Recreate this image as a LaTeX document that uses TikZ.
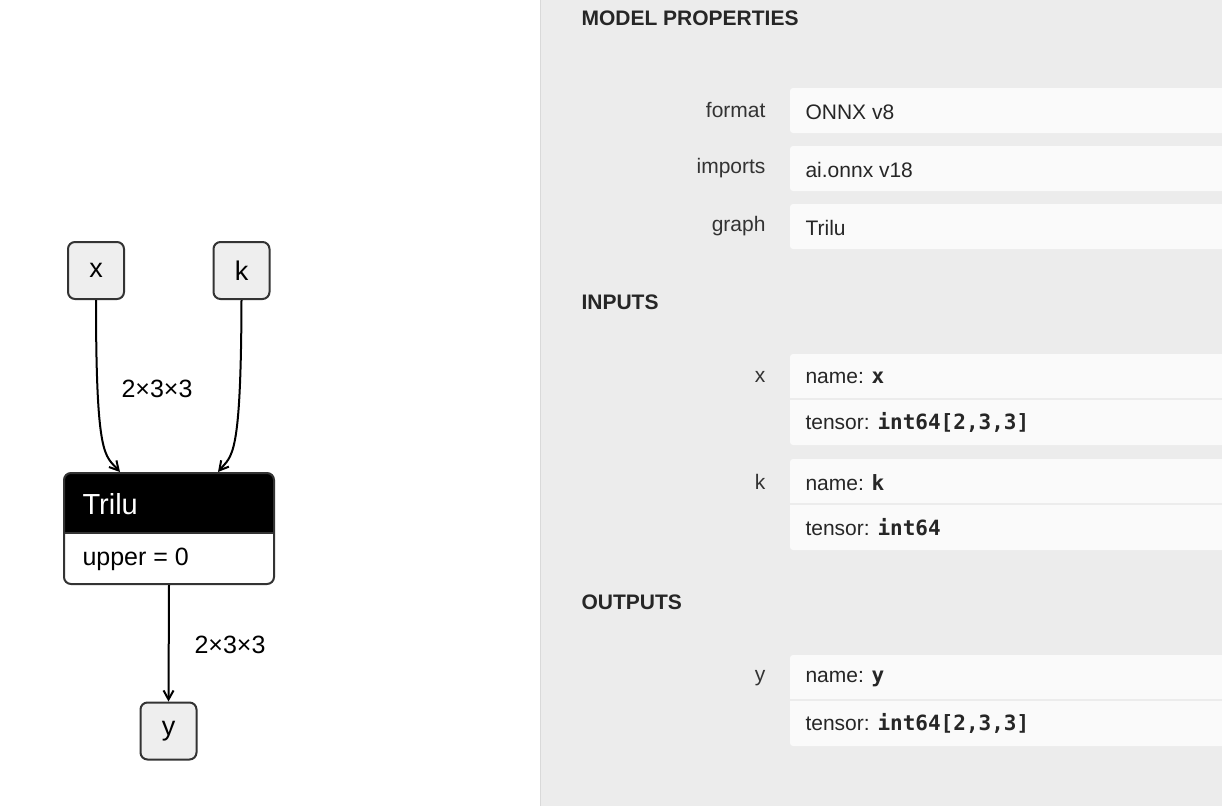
\documentclass[tikz,border=0pt]{standalone}
\usepackage{fontspec}
\setmainfont{Liberation Sans}
\setmonofont{DejaVu Sans Mono}
\usetikzlibrary{arrows.meta}
\definecolor{panel}{HTML}{ECECEC}
\definecolor{fieldbg}{HTML}{FAFAFA}
\definecolor{nodefill}{HTML}{EEEEEE}
\definecolor{bord}{HTML}{333333}
\begin{document}
\begin{tikzpicture}[x=1pt,y=-1pt,
  io/.style={draw=bord,line width=2pt,fill=nodefill,rounded corners=7pt,minimum width=56pt,minimum height=57pt,font=\fontsize{27}{30}\selectfont,inner sep=0pt},
  edge/.style={line width=2pt,-{Straight Barb[length=9pt,width=10pt]}},
  elab/.style={font=\fontsize{25}{28}\selectfont},
  head/.style={font=\bfseries\fontsize{21}{24}\selectfont,anchor=west,text=black!85},
  lab/.style={font=\fontsize{21}{24}\selectfont,anchor=east,text=black!80},
  fld/.style={font=\fontsize{21}{24}\selectfont,anchor=west,text=black!85},
]
\useasboundingbox (0,0) rectangle (1222,806);
\fill[panel] (540,0) rectangle (1222,806);
\draw[black!15,line width=1pt] (540,0) -- (540,806);
% graph
\node[io] (x) at (96,270.5) {x};
\node[io] (k) at (241.5,270.5) {k};
\node[io] (y) at (168.5,731) {y};
\fill[white,rounded corners=7pt] (64,473) rectangle (274,584);
\fill[black] (64,533) -- (64,480) arc[start angle=180,end angle=270,radius=7] -- (267,473) arc[start angle=270,end angle=360,radius=7] -- (274,533) -- cycle;
\draw[bord,line width=2pt,rounded corners=7pt] (64,473) rectangle (274,584);
\draw[bord,line width=2pt] (64,533) -- (274,533);
\node[anchor=west,text=white,font=\fontsize{29}{32}\selectfont] (tt) at (79,504) {Trilu};
\node[anchor=west,font=\fontsize{25}{28}\selectfont] (ta) at (79,559) {upper = 0};
\coordinate (tx) at (120,472);
\coordinate (tk) at (218,472);
\coordinate (tb) at (169,585);
\draw[edge] (x.south) .. controls (96,460) and (105,455) .. (tx);
\draw[edge] (k.south) .. controls (241,460) and (232,455) .. (tk);
\draw[edge] (tb) -- (y.north);
\node[elab] (l1) at (157,389) {2×3×3};
\node[elab] (l2) at (230,645) {2×3×3};
% panel
\node[head] (mp) at (578,18) {MODEL PROPERTIES};
\node[head] (in) at (578,302) {INPUTS};
\node[head] (out) at (578,602) {OUTPUTS};
\foreach \t/\y/\v in {format/88/ONNX v8, imports/146/ai.onnx v18, graph/204/Trilu}{
  \fill[fieldbg,rounded corners=3pt] (790,\y) rectangle (1230,\y+45);
  \node[lab] at (769,\y+22) {\t};
  \node[fld] at (802,\y+24) {\v};
}
\foreach \n/\y/\ty in {x/354/{int64[2,3,3]}, k/459/{int64}, y/655/{int64[2,3,3]}}{
  \fill[fieldbg,rounded corners=3pt] (790,\y) rectangle (1230,\y+91);
  \draw[panel,line width=1.5pt] (790,\y+45) -- (1222,\y+45);
  \node[lab] at (769,\y+23) {\n};
  \node[fld] at (802,\y+24) {name: \texttt{\bfseries\n}};
  \node[fld] at (802,\y+68) {tensor: \texttt{\bfseries\ty}};
}
\end{tikzpicture}
\end{document}
